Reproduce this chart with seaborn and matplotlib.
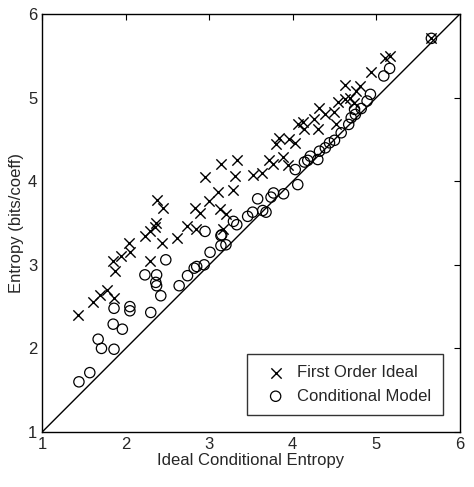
import pandas as pd
import seaborn as sns
import matplotlib
matplotlib.use("Agg")
import matplotlib.pyplot as plt

# First Order Ideal (x markers)
first_x = [1.43, 1.61, 1.69, 1.78, 1.86, 1.87, 1.85, 1.94, 2.05, 2.04, 2.23, 2.29, 2.35, 2.36,
           2.38, 2.45, 2.29, 2.43, 2.62, 2.73, 2.84, 2.83, 2.89, 3.00, 3.13, 3.11, 3.16, 3.20,
           2.95, 3.14, 3.29, 3.31, 3.33, 3.52, 3.63, 3.76, 3.71, 3.80, 3.84, 3.96, 4.03, 3.88,
           3.94, 4.13, 4.06, 4.12, 4.25, 4.32, 4.39, 4.49, 4.54, 4.62, 4.68, 4.63, 4.76, 4.80,
           4.94, 5.10, 5.16, 4.30, 4.52, 4.73, 5.66]
first_y = [2.40, 2.55, 2.64, 2.70, 2.60, 2.93, 3.05, 3.10, 3.15, 3.26, 3.35, 3.40, 3.45, 3.50,
           3.77, 3.68, 3.05, 3.26, 3.32, 3.46, 3.43, 3.68, 3.62, 3.76, 3.67, 3.87, 3.43, 3.61,
           4.05, 4.21, 3.90, 4.06, 4.26, 4.08, 4.10, 4.21, 4.26, 4.44, 4.52, 4.50, 4.46, 4.29,
           4.20, 4.62, 4.69, 4.71, 4.75, 4.88, 4.80, 4.83, 4.95, 4.98, 5.00, 5.15, 5.08, 5.14,
           5.31, 5.48, 5.50, 4.63, 4.68, 4.94, 5.71]

# Conditional Model (o markers)
cond_x = [1.44, 1.57, 1.67, 1.71, 1.86, 1.85, 1.96, 1.86, 2.05, 2.05, 2.30, 2.23, 2.37, 2.36,
          2.37, 2.42, 2.48, 2.64, 2.74, 2.82, 2.85, 2.94, 2.95, 3.01, 3.14, 3.14, 3.15, 3.20,
          3.29, 3.33, 3.46, 3.52, 3.58, 3.64, 3.68, 3.74, 3.77, 3.89, 4.03, 4.06, 4.14, 4.18,
          4.21, 4.30, 4.32, 4.39, 4.44, 4.50, 4.58, 4.67, 4.70, 4.75, 4.74, 4.82, 4.89, 4.93,
          5.09, 5.16, 5.66]
cond_y = [1.60, 1.71, 2.11, 2.00, 1.99, 2.29, 2.23, 2.48, 2.50, 2.45, 2.43, 2.88, 2.88, 2.79,
          2.75, 2.63, 3.06, 2.75, 2.87, 2.96, 2.98, 3.00, 3.40, 3.15, 3.23, 3.35, 3.36, 3.24,
          3.52, 3.48, 3.58, 3.63, 3.79, 3.65, 3.63, 3.81, 3.86, 3.85, 4.14, 3.96, 4.23, 4.25,
          4.30, 4.26, 4.36, 4.40, 4.46, 4.49, 4.58, 4.68, 4.76, 4.80, 4.86, 4.87, 4.96, 5.04,
          5.26, 5.35, 5.71]

sns.set_style("white")
plt.rcParams['font.family'] = ['Liberation Sans', 'DejaVu Sans']

fig = plt.figure(figsize=(4.74, 4.87), dpi=100)
ax = fig.add_axes([0.089, 0.113, 0.881, 0.858])

df1 = pd.DataFrame({"x": first_x, "y": first_y})
df2 = pd.DataFrame({"x": cond_x, "y": cond_y})
sns.scatterplot(data=df1, x="x", y="y", marker="x", color="black", s=55, linewidth=1.0,
                label="First Order Ideal", ax=ax)
sns.scatterplot(data=df2, x="x", y="y", marker="o", facecolor="none", edgecolor="black",
                s=55, linewidth=0.9, label="Conditional Model", ax=ax)
ax.plot([1, 6], [1, 6], color="black", linewidth=1.0)

ax.set_xlim(1, 6)
ax.set_ylim(1, 6)
ax.set_xticks(range(1, 7))
ax.set_yticks(range(1, 7))
ax.set_xlabel("Ideal Conditional Entropy", fontsize=12, labelpad=1)
ax.set_ylabel("Entropy (bits/coeff)", fontsize=12, labelpad=3)
ax.tick_params(direction="in", top=True, right=True, labelsize=12, length=4, color="black")
for sp in ax.spines.values():
    sp.set_color("black")
    sp.set_linewidth(1.0)

leg = ax.legend(loc="lower right", fontsize=12, frameon=True, fancybox=False,
                edgecolor="black", borderpad=0.7, handletextpad=0.3, bbox_to_anchor=(0.98, 0.02))
leg.get_frame().set_linewidth(1.0)

fig.savefig("out.png", dpi=100)
